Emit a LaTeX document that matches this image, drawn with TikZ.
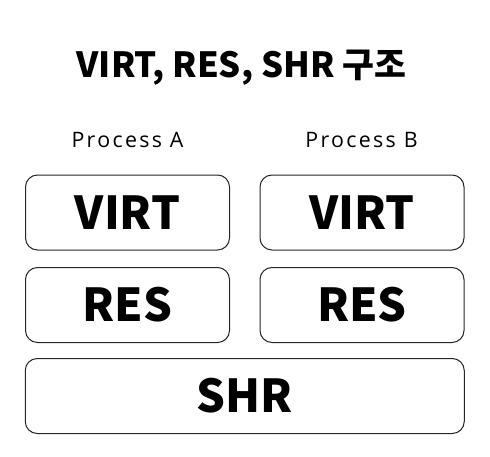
\documentclass[tikz,border=0pt]{standalone}
\usepackage{fontspec}
\setmainfont{Noto Sans CJK KR}
\newfontfamily\procfont[LetterSpace=11]{Open Sans}
\begin{document}
\begin{tikzpicture}[x=0.75pt, y=-0.75pt,
                    mem_style/.style={draw=black!85, line width=0.75pt, rounded corners=9pt,
                                      minimum height=56.25pt, inner sep=0pt,
                                      font=\fontsize{34}{38}\selectfont\bfseries},
                    proc_style/.style={anchor=base, font=\procfont\fontsize{16}{18}\selectfont},
                    title_style/.style={anchor=base, font=\fontsize{26}{30}\selectfont\bfseries}
   ]
   \useasboundingbox (0,0) rectangle (490,457);
   \node[title_style] (title) at (241.5,77) {VIRT, RES, SHR 구조};
   % Processes
   \node[proc_style] (pa) at (127.5,147.7) {Process A};
   \node[proc_style] (pb) at (361.5,147.7) {Process B};
   % Memory blocks
   \node[mem_style, minimum width=153pt] (virta) at (127.5,212.5) {VIRT};
   \node[mem_style, minimum width=153pt] (virtb) at (362,212.5) {VIRT};
   \node[mem_style, minimum width=153pt] (resa) at (127.5,305) {RES};
   \node[mem_style, minimum width=153pt] (resb) at (362,305) {RES};
   \node[mem_style, minimum width=329.25pt] (shr) at (244.75,396) {SHR};
\end{tikzpicture}
\end{document}
